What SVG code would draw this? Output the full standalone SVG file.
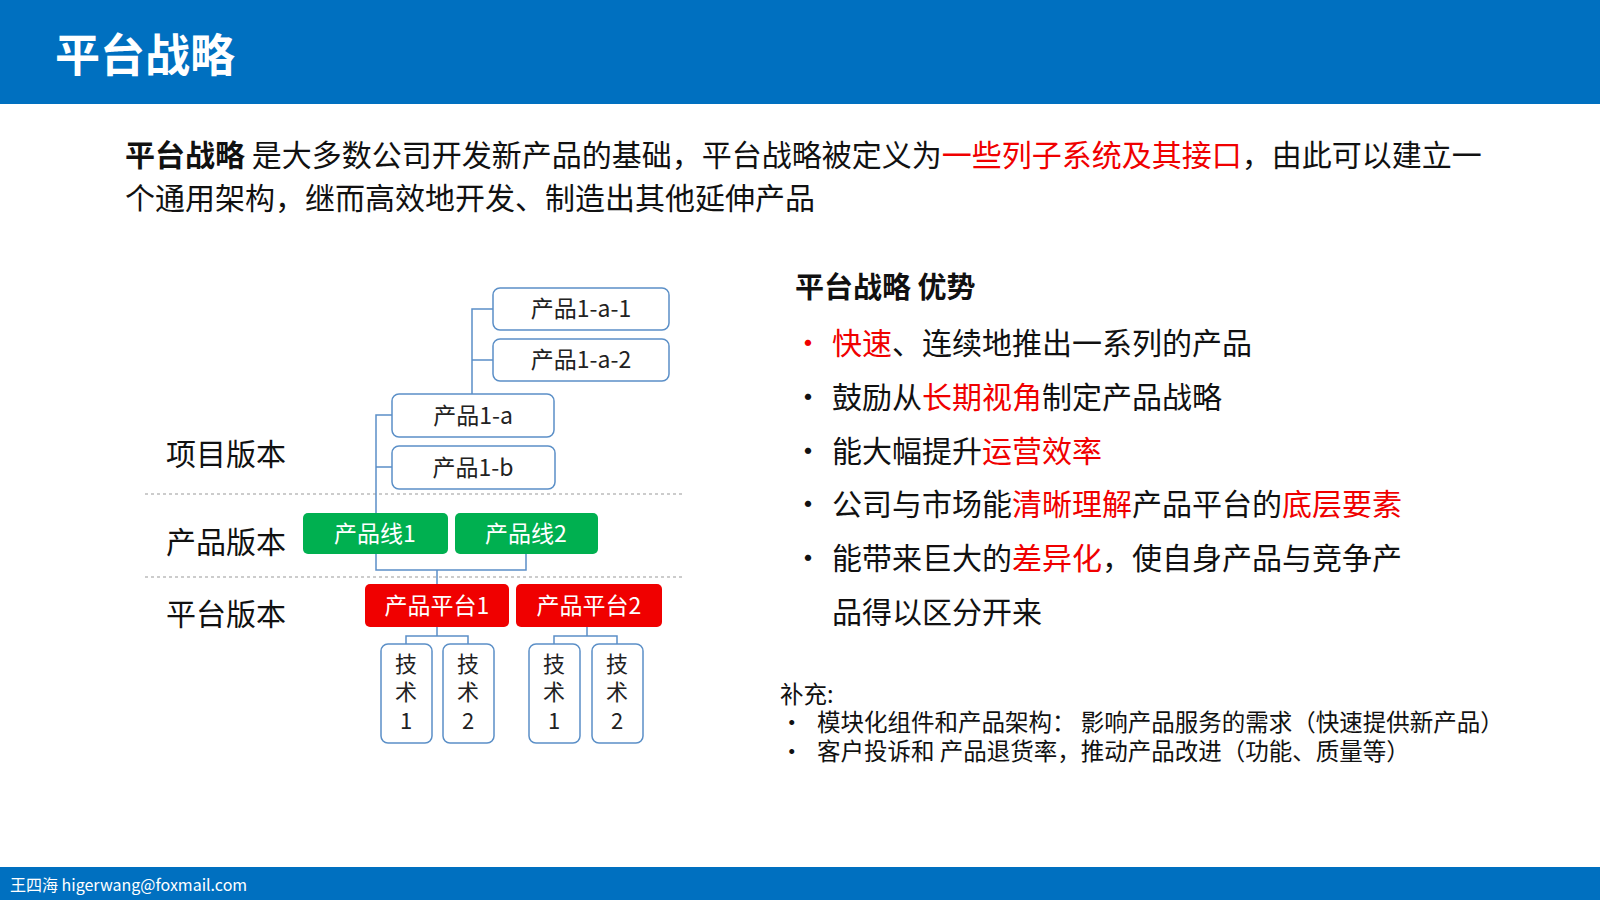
<svg xmlns="http://www.w3.org/2000/svg" width="1600" height="900" viewBox="0 0 1600 900">
<style>
text{font-family:"Noto Sans CJK SC","Liberation Sans",sans-serif;}
.w{fill:#fff;stroke:#5B8FC7;stroke-width:1.5}
.g{fill:#00B050}
.r{fill:#F00000}
.c{stroke:#5B8FC7;stroke-width:1.5;fill:none}
.d{stroke:#999;stroke-width:1.2;stroke-dasharray:3 3}
.bt{font-size:23px;fill:#222;text-anchor:middle}
.tt{font-size:22px;fill:#222;text-anchor:middle}
.wt{font-size:23px;fill:#fff;text-anchor:middle}
.lb{font-size:30px;fill:#111}
.p{font-size:30px;fill:#111}
.b{font-size:30px;fill:#111}
.red{fill:#F00000}
.s{font-size:23.5px;fill:#111}
</style>
<rect width="1600" height="904" fill="#fff"/>
<rect x="0" y="0" width="1600" height="104" fill="#0070C0"/>
<text x="55" y="72" font-size="45" font-weight="bold" fill="#fff">平台战略</text>
<text class="p" x="125" y="166"><tspan font-weight="bold">平台战略</tspan> 是大多数公司开发新产品的基础，平台战略被定义为<tspan class="red">一些列子系统及其接口</tspan>，由此可以建立一</text>
<text class="p" x="125" y="209">个通用架构，继而高效地开发、制造出其他延伸产品</text>

<g id="guides"><line class="d" x1="145" y1="494" x2="685" y2="494"/><line class="d" x1="145" y1="577" x2="685" y2="577"/></g>
<g id="labels">
<text class="lb" x="166" y="465">项目版本</text>
<text class="lb" x="166" y="553">产品版本</text>
<text class="lb" x="166" y="625">平台版本</text>
</g>
<g id="connectors">
<path class="c" d="M493 309H472V394M472 360H493"/>
<path class="c" d="M392 415H376V513M376 467H392"/>
<path class="c" d="M376 554V570H526V554M437 570V584"/>
<path class="c" d="M437 627V636M406 644V636H468V644M587 627V636M554 644V636H617V644"/>
</g>
<g id="n1a1"><rect class="w" x="493" y="288" width="176" height="42" rx="7"/><text class="bt" x="581" y="317">产品1-a-1</text></g>
<g id="n1a2"><rect class="w" x="493" y="339" width="176" height="42" rx="7"/><text class="bt" x="581" y="368">产品1-a-2</text></g>
<g id="n1a"><rect class="w" x="392" y="394" width="162" height="43" rx="7"/><text class="bt" x="473" y="424">产品1-a</text></g>
<g id="n1b"><rect class="w" x="392" y="446" width="163" height="43" rx="7"/><text class="bt" x="473" y="476">产品1-b</text></g>
<g id="pl1"><rect class="g" x="303" y="513" width="145" height="41" rx="5"/><text class="wt" x="375" y="542">产品线1</text></g>
<g id="pl2"><rect class="g" x="455" y="513" width="143" height="41" rx="5"/><text class="wt" x="526" y="542">产品线2</text></g>
<g id="pf1"><rect class="r" x="365" y="584" width="144" height="43" rx="5"/><text class="wt" x="437" y="614">产品平台1</text></g>
<g id="pf2"><rect class="r" x="516" y="584" width="146" height="43" rx="5"/><text class="wt" x="589" y="614">产品平台2</text></g>
<g id="t1"><rect class="w" x="381" y="644" width="51" height="99" rx="7"/><text class="tt" x="406" y="672">技</text><text class="tt" x="406" y="700">术</text><text class="tt" x="406" y="729">1</text></g>
<g id="t2"><rect class="w" x="443" y="644" width="51" height="99" rx="7"/><text class="tt" x="468" y="672">技</text><text class="tt" x="468" y="700">术</text><text class="tt" x="468" y="729">2</text></g>
<g id="t3"><rect class="w" x="529" y="644" width="51" height="99" rx="7"/><text class="tt" x="554" y="672">技</text><text class="tt" x="554" y="700">术</text><text class="tt" x="554" y="729">1</text></g>
<g id="t4"><rect class="w" x="592" y="644" width="51" height="99" rx="7"/><text class="tt" x="617" y="672">技</text><text class="tt" x="617" y="700">术</text><text class="tt" x="617" y="729">2</text></g>

<text x="795" y="298" font-size="29" font-weight="bold" fill="#111">平台战略 优势</text>
<text x="793" y="354" class="b red">•</text><text class="b" x="832" y="354"><tspan class="red">快速</tspan>、连续地推出一系列的产品</text>
<text x="793" y="408" class="b">•</text><text class="b" x="832" y="408">鼓励从<tspan class="red">长期视角</tspan>制定产品战略</text>
<text x="793" y="462" class="b">•</text><text class="b" x="832" y="462">能大幅提升<tspan class="red">运营效率</tspan></text>
<text x="793" y="515" class="b">•</text><text class="b" x="832" y="515">公司与市场能<tspan class="red">清晰理解</tspan>产品平台的<tspan class="red">底层要素</tspan></text>
<text x="793" y="569" class="b">•</text><text class="b" x="832" y="569">能带来巨大的<tspan class="red">差异化</tspan>，使自身产品与竞争产</text>
<text class="b" x="832" y="623">品得以区分开来</text>
<text class="s" x="780" y="703">补充:</text>
<text class="s" x="780" y="731">•</text><text class="s" x="817" y="731">模块化组件和产品架构： 影响产品服务的需求（快速提供新产品）</text>
<text class="s" x="780" y="760">•</text><text class="s" x="817" y="760">客户投诉和 产品退货率，推动产品改进（功能、质量等）</text>

<rect x="0" y="867" width="1600" height="33" fill="#0070C0"/>
<text x="10" y="891" font-size="16" fill="#fff">王四海 higerwang@foxmail.com</text>
</svg>
